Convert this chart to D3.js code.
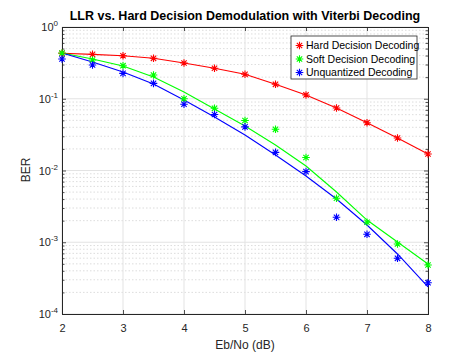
<!DOCTYPE html>
<html><head><meta charset="utf-8">
<script src="https://cdn.jsdelivr.net/npm/d3@7"></script>
<style>body{margin:0;background:#fff;} svg{display:block;font-family:"Liberation Sans",Arial,sans-serif;}</style>
</head><body><svg id="c" width="474" height="355"></svg>
<script>
const ebno = [2,2.5,3,3.5,4,4.5,5,5.5,6,6.5,7,7.5,8];
const hardSim = [0.430,0.416,0.398,0.366,0.315,0.266,0.219,0.159,0.113,0.0743,0.0464,0.0284,0.0170];
const softSim = [0.434,0.347,0.289,0.214,0.0998,0.0736,0.0497,0.0375,0.0152,0.0041,0.0019,0.000946,0.000482];
const unqSim  = [0.358,0.295,0.226,0.164,0.0839,0.0603,0.0406,0.0179,0.00964,0.00223,0.00129,0.000597,0.000273];
const hardFit = [0.430,0.416,0.398,0.366,0.315,0.266,0.219,0.159,0.113,0.0743,0.0464,0.0284,0.0170];
const softFit = [0.434,0.358,0.286,0.201,0.1242,0.0720,0.0417,0.02266,0.01155,0.00502,0.00204,0.001008,0.000498];
const unqFit  = [0.434,0.325,0.236,0.1606,0.0961,0.0557,0.0313,0.01644,0.00838,0.00401,0.00174,0.000686,0.000238];
const seriesNames = ["Hard Decision Decoding","Soft Decision Decoding","Unquantized Decoding"];
const seriesColors = ["#ff0000","#00ff00","#0000ff"];
const xTicks = [2,3,4,5,6,7,8];
const yTickExps = [0,-1,-2,-3,-4];
const titleText = "LLR vs. Hard Decision Demodulation with Viterbi Decoding";
const xLabel = "Eb/No (dB)";
const yLabel = "BER";

const svg = d3.select("#c");
const L=62,R=428,T=27,B=314;
const x = d3.scaleLinear().domain([2,8]).range([L,R]);
const y = d3.scaleLog().domain([1e-4,1]).range([B,T]);
const axc = "#262626";

// grid
const g = svg.append("g");
const minor=[];
for(let e=-4;e<0;e++) for(let k=2;k<=9;k++) minor.push(k*Math.pow(10,e));
g.selectAll(".mn").data(minor).enter().append("line")
 .attr("x1",L).attr("x2",R).attr("y1",d=>y(d)).attr("y2",d=>y(d))
 .attr("stroke","#d4d4d4").attr("stroke-width",0.8).attr("stroke-dasharray","1.5,2");
g.selectAll(".mj").data(yTickExps.map(e=>Math.pow(10,e))).enter().append("line")
 .attr("x1",L).attr("x2",R).attr("y1",d=>y(d)).attr("y2",d=>y(d))
 .attr("stroke","#e3e3e3").attr("stroke-width",1);
g.selectAll(".vx").data(xTicks).enter().append("line")
 .attr("x1",d=>x(d)).attr("x2",d=>x(d)).attr("y1",T).attr("y2",B)
 .attr("stroke","#e3e3e3").attr("stroke-width",1);

// axes via d3 axis (ticks inside)
const xa = d3.axisBottom(x).tickValues(xTicks).tickSize(-4).tickFormat(d3.format("d"));
const xaT = d3.axisTop(x).tickValues(xTicks).tickSize(-4).tickFormat("");
const ya = d3.axisLeft(y).tickValues(yTickExps.map(e=>Math.pow(10,e))).tickSize(-4).tickFormat("");
const yaR = d3.axisRight(y).tickValues(yTickExps.map(e=>Math.pow(10,e))).tickSize(-4).tickFormat("");
const yam = d3.axisLeft(y).tickValues(minor).tickSize(-2.5).tickFormat("");
const yamR = d3.axisRight(y).tickValues(minor).tickSize(-2.5).tickFormat("");
function style(sel){sel.selectAll("path").attr("stroke",axc).attr("stroke-width",1);sel.selectAll("line").attr("stroke",axc).attr("stroke-width",0.8);sel.selectAll("text").attr("fill",axc).attr("font-size",11).attr("font-family","Liberation Sans, Arial, sans-serif");}
style(svg.append("g").attr("transform",`translate(0,${B})`).call(xa).call(s=>s.selectAll("text").attr("dy","1.35em")));
style(svg.append("g").attr("transform",`translate(0,${T})`).call(xaT));
style(svg.append("g").attr("transform",`translate(${L},0)`).call(ya));
style(svg.append("g").attr("transform",`translate(${R},0)`).call(yaR));
style(svg.append("g").attr("transform",`translate(${L},0)`).call(yam));
style(svg.append("g").attr("transform",`translate(${R},0)`).call(yamR));
svg.selectAll(".domain").attr("stroke",axc);

// y tick labels
yTickExps.forEach(e=>{
  const t = svg.append("text").attr("x",L-4).attr("y",y(Math.pow(10,e))+4)
   .attr("text-anchor","end").attr("fill",axc).attr("font-size",11);
  t.append("tspan").text("10");
  t.append("tspan").attr("dy",-5).attr("font-size",8).text(String(e));
});

// lines
const line = d3.line().x((d,i)=>x(ebno[i])).y(d=>y(d));
[hardFit,softFit,unqFit].forEach((arr,k)=>{
  svg.append("path").attr("d",line(arr)).attr("fill","none").attr("stroke",seriesColors[k]).attr("stroke-width",1.1);
});
// markers
const r=3.8, dd=r*0.7071;
const star=`M${-r},0L${r},0M0,${-r}L0,${r}M${-dd},${-dd}L${dd},${dd}M${-dd},${dd}L${dd},${-dd}`;
[hardSim,softSim,unqSim].forEach((arr,k)=>{
  svg.append("g").selectAll("path").data(arr).enter().append("path")
   .attr("transform",(d,i)=>`translate(${x(ebno[i])},${y(d)})`).attr("d",star)
   .attr("fill","none").attr("stroke",seriesColors[k]).attr("stroke-width",1.1);
});

// legend
const lg = svg.append("g");
lg.append("rect").attr("x",291).attr("y",36).attr("width",126).attr("height",43).attr("fill","#fff").attr("stroke",axc).attr("stroke-width",0.8);
seriesNames.forEach((n,k)=>{
  const yy=45.5+k*13.5;
  lg.append("path").attr("transform",`translate(299.5,${yy})`).attr("d",star).attr("fill","none").attr("stroke",seriesColors[k]).attr("stroke-width",1.1);
  lg.append("text").attr("x",306).attr("y",yy+3.8).attr("font-size",10.5).attr("fill","#000").text(n);
});

// title & labels
svg.append("text").attr("x",245).attr("y",20).attr("text-anchor","middle").attr("font-weight","bold").attr("font-size",12.5).attr("fill","#000").text(titleText);
svg.append("text").attr("x",245).attr("y",349).attr("text-anchor","middle").attr("font-size",12).attr("fill",axc).text(xLabel);
svg.append("text").attr("transform","translate(30,170) rotate(-90)").attr("text-anchor","middle").attr("font-size",12).attr("fill",axc).text(yLabel);
</script></body></html>
